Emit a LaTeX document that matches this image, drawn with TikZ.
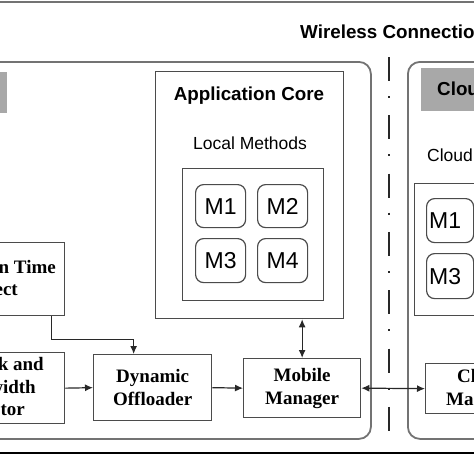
\documentclass[tikz,border=0pt]{standalone}
\usepackage{fontspec}
\setmainfont{Liberation Serif}
\setsansfont{Liberation Sans}
\usetikzlibrary{arrows.meta}
\definecolor{boxgray}{RGB}{75,75,75}
\definecolor{outergray}{RGB}{115,115,115}
\definecolor{headgray}{RGB}{168,168,168}
\definecolor{linedark}{RGB}{40,40,40}
\begin{document}
\begin{tikzpicture}[x=1pt,y=-1pt,
  box/.style={draw=boxgray, line width=1.3pt, anchor=north west, inner sep=0pt},
  outerbox/.style={draw=outergray, line width=1.8pt, rounded corners=12pt, anchor=north west, inner sep=0pt},
  headbox/.style={fill=headgray, draw=none, anchor=north west, inner sep=0pt},
  mbox/.style={draw=boxgray, line width=1.2pt, rounded corners=8pt, anchor=north west, inner sep=0pt, font=\sffamily\fontsize{23}{26}\selectfont},
  serifb/.style={font=\bfseries\fontsize{19}{23}\selectfont, align=center, inner sep=0pt},
  frag/.style={font=\bfseries\fontsize{19}{23}\selectfont, inner sep=0pt},
  sanstitle/.style={font=\sffamily\bfseries\fontsize{18.8}{22}\selectfont, inner sep=0pt},
  sansreg/.style={font=\sffamily\fontsize{17.5}{21}\selectfont, inner sep=0pt},
  arr/.style={draw=linedark, line width=1.2pt, -{Latex[length=8pt,width=7pt]}},
  darr/.style={draw=linedark, line width=1.2pt, {Latex[length=8pt,width=7pt]}-{Latex[length=8pt,width=7pt]}}
]
\useasboundingbox (0,0) rectangle (474,474);
\clip (0,0) rectangle (474,474);
\fill[white] (0,0) rectangle (474,474);

% frame lines
\draw[draw=outergray, line width=2pt] (0,2) -- (474,2);
\draw[draw=black, line width=2pt] (0,453) -- (474,453);

% title
\node[sanstitle, anchor=west] (wl) at (300,32) {Wireless Connection};

% outer containers
\node[outerbox, minimum width=390pt, minimum height=377pt] (mobile) at (-20,61) {};
\node[outerbox, minimum width=120pt, minimum height=377pt] (cloud) at (407,61) {};

% headers
\node[headbox, minimum width=40pt, minimum height=41pt] (lhead) at (-33,72) {};
\node[headbox, minimum width=80pt, minimum height=43pt] (rhead) at (421,68) {};
\node[sanstitle, anchor=west] (rheadtxt) at (437,89) {Clou};

% application core
\node[box, minimum width=188pt, minimum height=247pt] (app) at (155,71) {};
\node[sanstitle] (apptitle) at (249,96) {Application Core};
\node[sansreg] (lm) at (250,143) {Local Methods};
\node[box, minimum width=141pt, minimum height=132pt] (local) at (182,168) {};
\node[mbox, minimum width=50pt, minimum height=43pt] (m1) at (195,184) {M1};
\node[mbox, minimum width=50pt, minimum height=43pt] (m2) at (257,184) {M2};
\node[mbox, minimum width=50pt, minimum height=44pt] (m3) at (195,238) {M3};
\node[mbox, minimum width=50pt, minimum height=44pt] (m4) at (257,238) {M4};

% cloud side methods
\node[sansreg, anchor=west] (cm) at (427,155) {Cloud};
\node[box, minimum width=100pt, minimum height=132pt] (clocal) at (414,183) {};
\node[mbox, minimum width=47pt, minimum height=44pt, text width=40pt, align=left] (c1) at (426,198) {\hspace*{-1pt}M1};
\node[mbox, minimum width=47pt, minimum height=45pt, text width=40pt, align=left] (c3) at (426,253) {\hspace*{-1pt}M3};

% left boxes
\node[box, minimum width=146pt, minimum height=73pt] (run) at (-82,242) {};
\node[frag, anchor=east] (run1) at (56,267) {n Time};
\node[frag, anchor=east] (run2) at (18,290) {ect};

\node[box, minimum width=146pt, minimum height=71pt] (mon) at (-82,352) {};
\node[frag, anchor=east] (mon1) at (44,364) {k and};
\node[frag, anchor=east] (mon2) at (36,387) {width};
\node[frag, anchor=east] (mon3) at (25,410) {tor};

\node[box, minimum width=118pt, minimum height=66pt] (dyn) at (93,354) {};
\node[serifb] (dyntxt) at (dyn.center) {Dynamic\\Offloader};

\node[box, minimum width=117pt, minimum height=59pt] (mm) at (243,358) {};
\node[serifb] (mmtxt) at (mm.center) {Mobile\\Manager};

\node[box, minimum width=100pt, minimum height=50pt] (cmgr) at (425,363) {};
\node[frag, anchor=west] (cm1) at (457,376) {Cl};
\node[frag, anchor=west] (cm2) at (446,399) {Ma};

% connectors
\draw[arr] ([xshift=-14pt]run.south east) -- ++(0,23) -| ([xshift=-19pt]dyn.north);
\draw[arr] (mon.east) -- (dyn.west);
\draw[arr] (dyn.east) -- (mm.west);
\draw[darr] (mm.north |- app.south) -- (mm.north);
\draw[darr] (mm.east) -- (cmgr.west);

% wireless separator
\coordinate (septop) at (389,57);
\coordinate (sepbot) at (389,434);
\draw[draw=linedark, line width=2.6pt, dash pattern=on 24pt off 15pt on 2pt off 17.3pt] (septop) -- (sepbot);
\end{tikzpicture}
\end{document}
